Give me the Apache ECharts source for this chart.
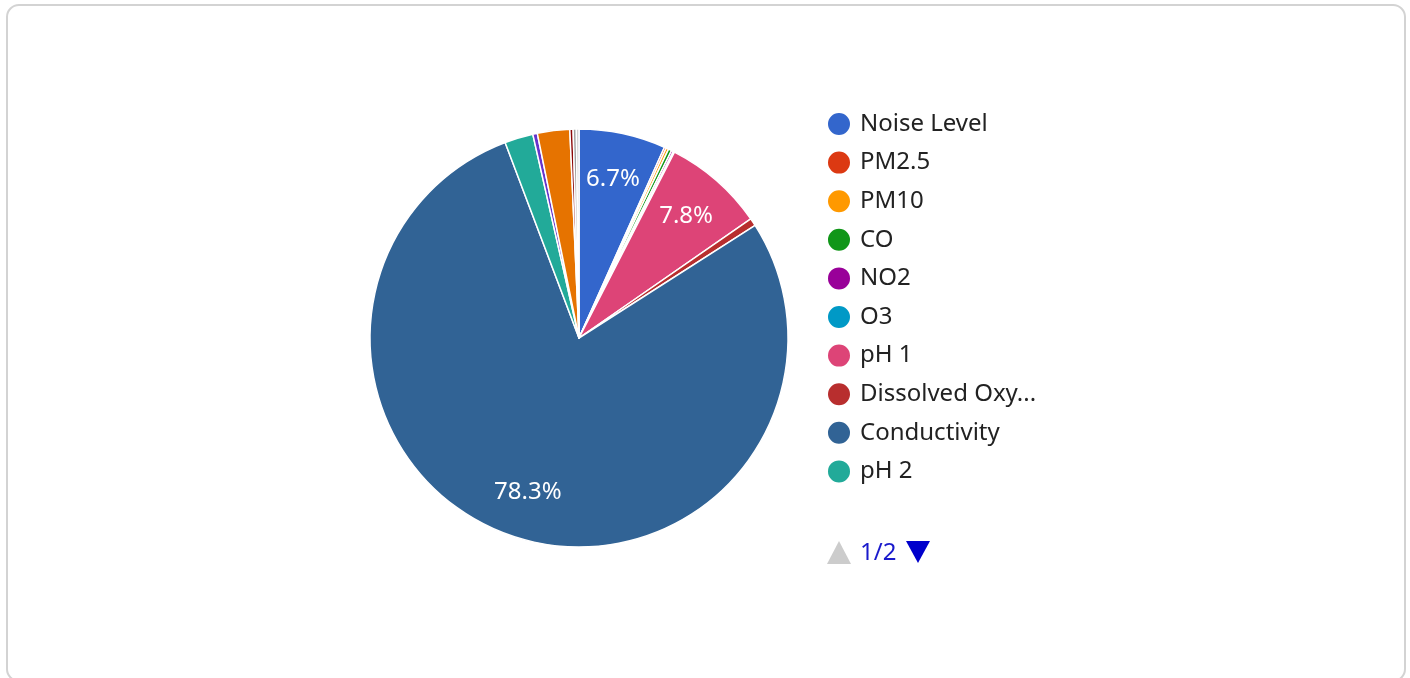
<!DOCTYPE html>
<html>
<head>
<meta charset="utf-8">
<script src="https://cdn.jsdelivr.net/npm/echarts@6/dist/echarts.min.js"></script>
<style>
  html, body { margin: 0; padding: 0; background: #ffffff; width: 1410px; height: 678px; overflow: hidden; }
  #card { position: absolute; left: 6px; top: 4px; width: 1400px; height: 678px; box-sizing: border-box;
          border: 2px solid #d3d3d3; border-radius: 13px; background: #fff; }
  #chart { position: absolute; left: 0; top: 0; width: 1410px; height: 678px; }
</style>
</head>
<body>
<div id="card"></div>
<div id="chart"></div>
<script>
const categories = ['Noise Level', 'PM2.5', 'PM10', 'CO', 'NO2', 'O3', 'pH 1', 'Dissolved Oxygen',
  'Conductivity', 'pH 2', 'Temperature', 'Humidity', 'Turbidity', 'Water Level', 'Flow Rate'];
const values = [6.7, 0.15, 0.2, 0.25, 0.15, 0.1, 7.8, 0.6, 78.3, 2.2, 0.35, 2.5, 0.25, 0.25, 0.2];
const colors = ['#3366cc', '#dc3912', '#ff9900', '#109618', '#990099', '#0099c6', '#dd4477', '#b82e2e',
  '#316395', '#22aa99', '#6633cc', '#e67300', '#8b0707', '#a0a0a0', '#c8c8c8'];
const legendPageSize = 10;
const pageLabel = '1/2';

const font = 'Noto Sans';
const data = categories.map((n, i) => ({ name: n, value: values[i], itemStyle: { color: colors[i] } }));
const overlayData = categories.map((n, i) => ({ name: n, value: values[i] }));

const chart = echarts.init(document.getElementById('chart'), null, { renderer: 'canvas' });
chart.setOption({
  animation: false,
  backgroundColor: 'transparent',
  textStyle: { fontFamily: font },
  legend: {
    type: 'plain',
    orient: 'vertical',
    left: 826,
    top: 111,
    padding: 0,
    data: categories.slice(0, legendPageSize),
    icon: 'circle',
    itemWidth: 24,
    itemHeight: 24,
    itemGap: 12.6,
    selectedMode: true,
    textStyle: { fontFamily: font, fontSize: 24, lineHeight: 24, color: '#222222', width: 190,
                 overflow: 'truncate', padding: [0, 0, 0, 4] }
  },
  graphic: [
    { type: 'polygon', shape: { points: [[827, 564], [839, 541], [851, 564]] }, style: { fill: '#cccccc' } },
    { type: 'text', x: 860, y: 553, style: { text: pageLabel, fontFamily: font, fontSize: 24,
        fill: '#1a1acc', verticalAlign: 'middle', align: 'left' } },
    { type: 'polygon', shape: { points: [[906, 541], [930, 541], [918, 563]] }, style: { fill: '#0000cc' } }
  ],
  series: [
    {
      type: 'pie',
      center: [579, 338],
      radius: [0, 209],
      startAngle: 90,
      clockwise: true,
      avoidLabelOverlap: false,
      data: data,
      itemStyle: { borderColor: '#ffffff', borderWidth: 1.5 },
      label: { show: false },
      labelLine: { show: false },
      emphasis: { disabled: true }
    },
    {
      type: 'pie',
      center: [579, 338],
      radius: [110, 209],
      startAngle: 90,
      clockwise: true,
      silent: true,
      avoidLabelOverlap: false,
      data: overlayData,
      itemStyle: { color: 'rgba(0,0,0,0)', borderWidth: 0 },
      label: {
        show: true,
        position: 'inside',
        color: '#ffffff',
        fontFamily: font,
        fontSize: 24,
        formatter: p => (p.percent >= 5 ? p.percent.toFixed(1) + '%' : '')
      },
      labelLine: { show: false },
      emphasis: { disabled: true }
    }
  ]
});
</script>
</body>
</html>
